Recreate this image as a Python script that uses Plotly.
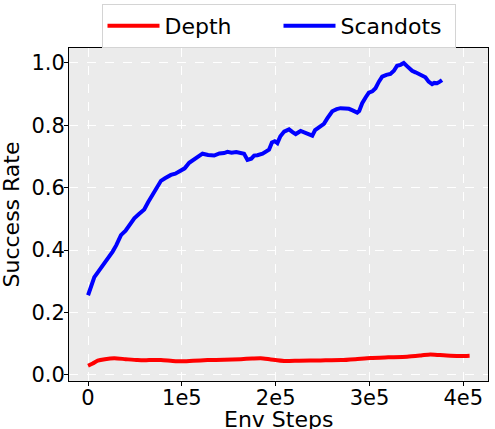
"""
Success rate vs. env steps: Depth vs Scandots policies.
"""

import plotly.graph_objects as go

# Depth policy
depth_steps = [
    0, 5000, 10300, 18000, 28000, 40000, 52800, 65000, 77700, 88000, 98900,
    112000, 127300, 145000, 162800, 175000, 184000, 194700, 208900, 225000,
    247900, 270000, 285000, 301100, 320000, 340100, 355000, 364900, 375000,
    386200, 398000, 406700,
]
depth_success = [
    0.029, 0.036, 0.045, 0.050, 0.053, 0.050, 0.047, 0.047, 0.047, 0.045, 0.043,
    0.045, 0.047, 0.048, 0.050, 0.052, 0.053, 0.049, 0.044, 0.045,
    0.046, 0.047, 0.050, 0.054, 0.056, 0.058, 0.062, 0.065, 0.063,
    0.061, 0.060, 0.061,
]

# Scandots policy
scandots_steps = [
    0, 3000, 6700, 10000, 15600, 20000, 26200, 30000, 35100, 40000, 45000,
    49300, 54000, 59900, 64000, 68800, 73000, 77700, 82000, 88300, 93000,
    98900, 103000, 107800, 113000, 118000, 122000, 128000, 134400, 140000,
    145000, 148600, 153000, 158000, 163000, 166300, 169900, 174000, 177000,
    180500, 186000, 192900, 196000, 199000, 201800, 205000, 209000, 214200,
    218000, 221300, 226600, 230000, 233700, 237000, 239000, 242000, 246000,
    251400, 255000, 260300, 265000, 269100, 274000, 278000, 282000, 286900,
    289000, 292200, 296000, 299300, 303000, 306400, 310000, 313500, 318000,
    322300, 326000, 329400, 333000, 336500, 340000, 343000, 345400, 349000,
    352500, 356000, 359600, 363000, 366700, 369000, 372000, 375000, 377300,
]
scandots_success = [
    0.255, 0.285, 0.313, 0.327, 0.350, 0.368, 0.395, 0.415, 0.448, 0.462, 0.482,
    0.502, 0.515, 0.530, 0.553, 0.578, 0.600, 0.622, 0.630, 0.641, 0.645,
    0.657, 0.662, 0.680, 0.690, 0.698, 0.709, 0.705, 0.703, 0.710,
    0.711, 0.715, 0.712, 0.714, 0.711, 0.709, 0.689, 0.693, 0.703,
    0.704, 0.709, 0.722, 0.745, 0.749, 0.743, 0.765, 0.780, 0.787,
    0.778, 0.772, 0.782, 0.778, 0.773, 0.768, 0.767, 0.785, 0.792,
    0.805, 0.822, 0.845, 0.852, 0.855, 0.854, 0.853, 0.848, 0.841,
    0.846, 0.871, 0.890, 0.905, 0.909, 0.919, 0.940, 0.956, 0.962,
    0.965, 0.975, 0.991, 0.994, 1.000, 0.990, 0.980, 0.975, 0.970,
    0.965, 0.957, 0.954, 0.940, 0.932, 0.936, 0.935, 0.940, 0.945,
]

x_tick_vals = [0, 100000, 200000, 300000, 400000]
x_tick_text = ["0", "1e5", "2e5", "3e5", "4e5"]
y_tick_vals = [0.0, 0.2, 0.4, 0.6, 0.8, 1.0]

FONT = "DejaVu Sans"

fig = go.Figure()
fig.add_trace(go.Scatter(
    x=depth_steps, y=depth_success, mode="lines", name="Depth",
    line=dict(color="#ff0000", width=4, shape="spline", smoothing=0.6),
))
fig.add_trace(go.Scatter(
    x=scandots_steps, y=scandots_success, mode="lines", name="Scandots",
    line=dict(color="#0000ff", width=4),
))

axis_common = dict(
    showline=True, linecolor="black", linewidth=1, mirror=True,
    ticks="outside", ticklen=4, tickcolor="black",
    showgrid=True, gridcolor="white", griddash="dash", gridwidth=1,
    zeroline=False, automargin=False,
    tickfont=dict(size=21, color="black", family=FONT),
)

fig.update_xaxes(
    range=[-20300, 426300],
    tickvals=x_tick_vals, ticktext=x_tick_text,
    ticklabelstandoff=-6,
    **axis_common,
)
fig.update_yaxes(
    range=[-0.020, 1.048],
    tickvals=y_tick_vals, tickformat=".1f",
    ticklabelstandoff=-5,
    **axis_common,
)

# axis titles as annotations so they sit where the reference has them
fig.add_annotation(
    text="Env Steps", xref="paper", yref="paper", x=0.5, y=0,
    xanchor="center", yanchor="middle", yshift=-38, showarrow=False,
    font=dict(size=22, color="black", family=FONT),
)
fig.add_annotation(
    text="Success Rate", xref="paper", yref="paper", x=0, y=0.5,
    xanchor="center", yanchor="middle", xshift=-58, textangle=-90,
    showarrow=False, font=dict(size=22, color="black", family=FONT),
)

fig.update_layout(
    width=495, height=429,
    margin=dict(l=69, r=7, t=48, b=48, autoexpand=False),
    paper_bgcolor="white",
    plot_bgcolor="#ebebeb",
    font=dict(family=FONT, color="black"),
    legend=dict(
        orientation="h",
        x=0.5, xanchor="center",
        y=1.0, yanchor="bottom",
        itemwidth=52,
        entrywidth=109, entrywidthmode="pixels",
        bgcolor="white",
        bordercolor="#d4d4d4", borderwidth=1,
        font=dict(size=22, family=FONT, color="black"),
    ),
)

# page body has a default 8px margin; drop it so the figure sits at the corner
fig.write_html(
    "out.html",
    config={"displayModeBar": False},
    post_script="document.body.style.margin='0';",
)
